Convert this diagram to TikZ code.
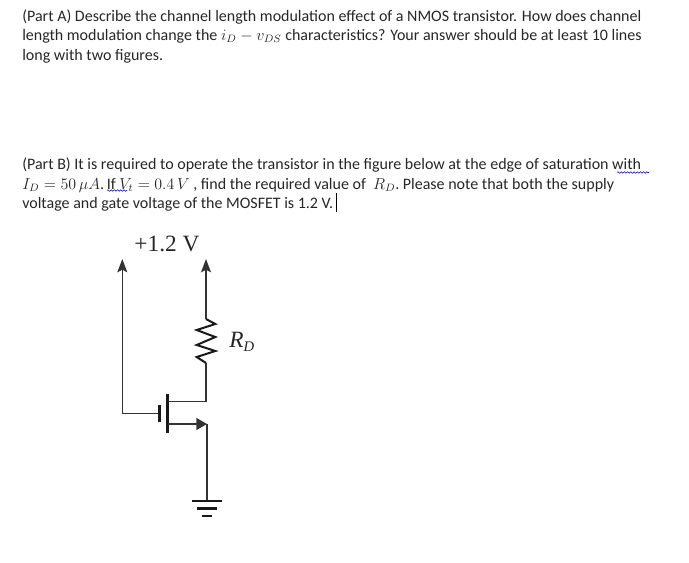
\documentclass[tikz,border=0pt]{standalone}
\usepackage{fontspec}
\setmainfont{Carlito}
\newfontfamily\figfont{Liberation Serif}
\usetikzlibrary{arrows.meta,decorations.pathmorphing}

\tikzstyle{textline} = [anchor=base west,inner sep=0pt,font=\fontsize{12}{14}\selectfont,text=black!85]
\tikzstyle{figlabel} = [inner sep=0pt,font=\figfont\fontsize{17.5}{20}\selectfont,text=black!85]
\tikzstyle{wire} = [line width=1pt,black!80]
\tikzstyle{plate} = [line width=2pt,black!90]
\tikzstyle{supply} = [wire,-{Stealth[length=10pt,width=7.5pt,inset=2pt]}]
\tikzstyle{spell} = [blue!70!black,line width=0.4pt,decorate,decoration={snake,amplitude=0.6pt,segment length=2.4pt}]

\begin{document}
\begin{tikzpicture}[x=0.75pt,y=-0.75pt]
		\useasboundingbox (0,0) rectangle (689,562);
		% question text
		\node[textline] (a1) at (22,21) {(Part A) Describe the channel length modulation effect of a NMOS transistor. How does channel};
		\node[textline] (a2) at (22,40) {length modulation change the $i_D - v_{DS}$ characteristics? Your answer should be at least 10 lines};
		\node[textline] (a3) at (22,60) {long with two figures.};
		\node[textline] (b1) at (22,169) {(Part B) It is required to operate the transistor in the figure below at the edge of saturation with};
		\node[textline] (b2) at (22,189) {$I_D = 50\,\mu A$.\hspace{-1.5pt} If $V_t = 0.4\,V$ , find the required value of\ \ $R_D$.\hspace{-1pt} Please note that both the supply};
		\node[textline] (b3) at (22,208) {voltage and gate voltage of the MOSFET is 1.2 V.};

		% spell check marks and cursor
		\coordinate (s1) at (617,172.5);
		\coordinate (s2) at (649,172.5);
		\coordinate (s3) at (107,190.5);
		\coordinate (s4) at (127,190.5);
		\coordinate (c1) at (336,193);
		\coordinate (c2) at (336,212);
		\draw[spell] (s1) -- (s2);
		\draw[spell] (s3) -- (s4);
		\draw[line width=0.6pt] (c1) -- (c2);

		% circuit
		\coordinate (gatetop) at (122.3,259);
		\coordinate (gatecorner) at (122.3,413.7);
		\coordinate (gatein) at (159.3,413.7);
		\coordinate (g1) at (159.3,405);
		\coordinate (g2) at (159.3,422);
		\coordinate (ch1) at (167.7,394);
		\coordinate (ch2) at (167.7,433);
		\coordinate (d1) at (167.7,401.7);
		\coordinate (d2) at (206,401.7);
		\coordinate (s5) at (167.7,424);
		\coordinate (s6) at (207,424);
		\coordinate (gnd) at (207,501);
		\coordinate (rtop) at (206,319);
		\coordinate (rbot) at (206,363);
		\coordinate (vdd) at (206,259);

		\draw[supply] (gatein) -- (gatecorner) -- (gatetop);
		\draw[supply] (rtop) -- (vdd);
		\draw[plate] (g1) -- (g2);
		\draw[plate] (ch1) -- (ch2);
		\draw[wire] (d1) -- (d2) -- (rbot);
		\draw[line width=1.5pt,black!90,line join=miter] (rtop) -- ++(9.3,5) -- ++(-18.6,6) -- ++(18.6,7) -- ++(-18.6,8) -- ++(18.6,6) -- ++(-18.6,6) -- (rbot);
		\draw[wire,-{Triangle[length=8pt,width=9pt]}] (s5) -- (s6);
		\draw[wire] (s6) -- (gnd);

		% ground
		\draw[line width=2pt,black!90] (192.3,501) -- (222.3,501);
		\draw[line width=2pt,black!90] (197,508.7) -- (217,508.7);
		\draw[line width=2pt,black!90] (202,516) -- (212,516);

		\node[figlabel] (vlabel) at (167,244) {+1.2 V};
		\node[figlabel] (rlabel) at (241.7,342) {\textit{R}\raisebox{-3pt}{\fontsize{11}{12}\selectfont\textit{D}}};
\end{tikzpicture}
\end{document}
